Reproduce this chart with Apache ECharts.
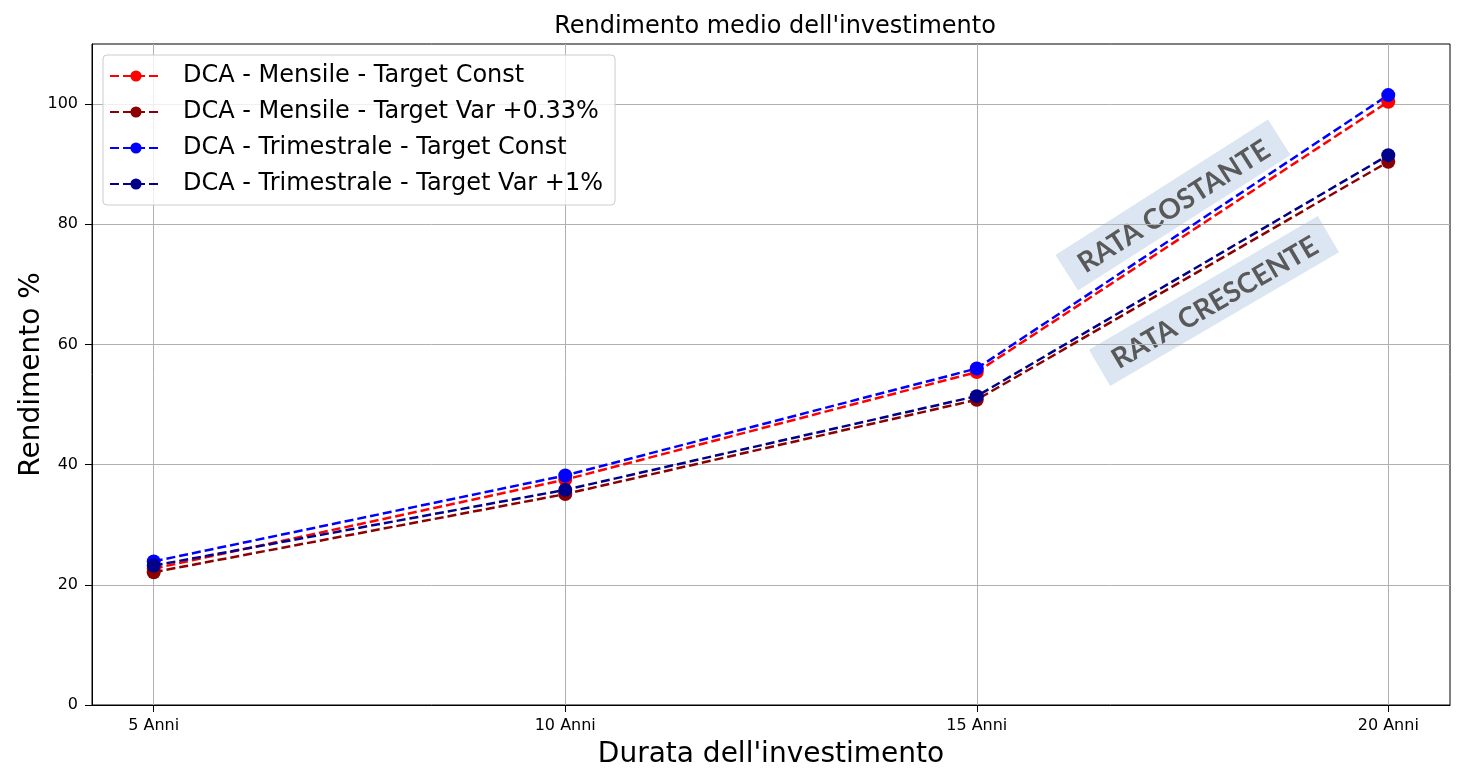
<!DOCTYPE html>
<html>
<head>
<meta charset="utf-8">
<script src="https://cdn.jsdelivr.net/npm/echarts@6/dist/echarts.min.js"></script>
<style>html,body{margin:0;padding:0;background:#fff;}#c{width:1457px;height:778px;}</style>
</head>
<body>
<div id="c"></div>
<script>
const categories = ['5 Anni', '10 Anni', '15 Anni', '20 Anni'];
const mensileConst = [22.7, 37.5, 55.4, 100.4];
const mensileVar = [22.1, 35.1, 50.8, 90.4];
const trimConst = [23.9, 38.2, 56.0, 101.5];
const trimVar = [23.2, 35.8, 51.4, 91.5];
const seriesNames = ['DCA - Mensile - Target Const', 'DCA - Mensile - Target Var +0.33%', 'DCA - Trimestrale - Target Const', 'DCA - Trimestrale - Target Var +1%'];
const seriesColors = ['#ff0000', '#8b0000', '#0000ff', '#00008b'];
const yTicks = [0, 20, 40, 60, 80, 100];

const allData = [mensileConst, mensileVar, trimConst, trimVar];
const chart = echarts.init(document.getElementById('c'));
const font = 'DejaVu Sans';

function mkAnno(cx, cy, w, h, deg, text) {
  return {
    type: 'group', x: cx, y: cy, rotation: deg * Math.PI / 180, z: 1,
    children: [
      {type: 'rect', shape: {x: -w/2, y: -h/2, width: w, height: h}, style: {fill: '#dce6f2'}},
      {type: 'text', x: 0, y: 2, style: {text: text, fill: '#595959', font: 'bold 28px Lato', align: 'center', verticalAlign: 'middle'}}
    ]
  };
}

chart.setOption({
  animation: false,
  backgroundColor: '#fff',
  title: {text: "Rendimento medio dell'investimento", left: 770, textAlign: 'center', top: 10,
    textStyle: {fontFamily: font, fontSize: 24, fontWeight: 'normal', color: '#000'}},
  grid: {left: 92, right: 7, top: 44, bottom: 73, outerBoundsMode: 'none', containLabel: false,
    show: true, borderColor: '#000', borderWidth: 1, backgroundColor: 'transparent'},
  legend: {
    orient: 'vertical', left: 103, top: 55, padding: [7, 12, 7, 6],
    backgroundColor: 'rgba(255,255,255,0.8)', borderColor: '#cccccc', borderWidth: 1, borderRadius: 4,
    itemWidth: 52, itemHeight: 14, itemGap: 8,
    textStyle: {fontFamily: font, fontSize: 24, color: '#000', padding: [0, 0, 0, 16], lineHeight: 28},
    data: seriesNames
  },
  xAxis: {
    type: 'value', min: -0.15, max: 3.15,
    name: "Durata dell'investimento", nameLocation: 'middle', nameGap: 36, nameMoveOverlap: false,
    nameTextStyle: {fontFamily: font, fontSize: 28, color: '#000'},
    axisLine: {show: true, onZero: false, lineStyle: {color: '#000'}},
    axisTick: {show: true, length: 7, lineStyle: {color: '#000'}, customValues: [0, 1, 2, 3]},
    axisLabel: {fontFamily: font, fontSize: 16, color: '#000', margin: 13, customValues: [0, 1, 2, 3],
      formatter: v => categories[Math.round(v)]},
    splitLine: {show: true, lineStyle: {color: '#b0b0b0', width: 1}}
  },
  yAxis: {
    type: 'value', min: 0, max: 110, interval: 20,
    name: 'Rendimento %', nameLocation: 'middle', nameGap: 46, nameMoveOverlap: false,
    nameTextStyle: {fontFamily: font, fontSize: 28, color: '#000'},
    axisLine: {show: true, onZero: false, lineStyle: {color: '#000'}},
    axisTick: {show: true, length: 7, lineStyle: {color: '#000'}, customValues: yTicks},
    axisLabel: {fontFamily: font, fontSize: 16, color: '#000', margin: 14, customValues: yTicks},
    splitLine: {show: true, lineStyle: {color: '#b0b0b0', width: 1}}
  },
  graphic: [
    mkAnno(1173, 205, 252, 42, 32.5, 'RATA COSTANTE'),
    mkAnno(1214, 301, 265, 42, 30.3, 'RATA CRESCENTE')
  ],
  series: allData.map((d, i) => ({
    name: seriesNames[i], type: 'line', z: 3,
    data: d.map((v, j) => [j, v]),
    symbol: 'circle', symbolSize: 14,
    lineStyle: {color: seriesColors[i], width: 2.5, type: [9, 4]},
    itemStyle: {color: seriesColors[i]}
  }))
});
</script>
</body>
</html>
